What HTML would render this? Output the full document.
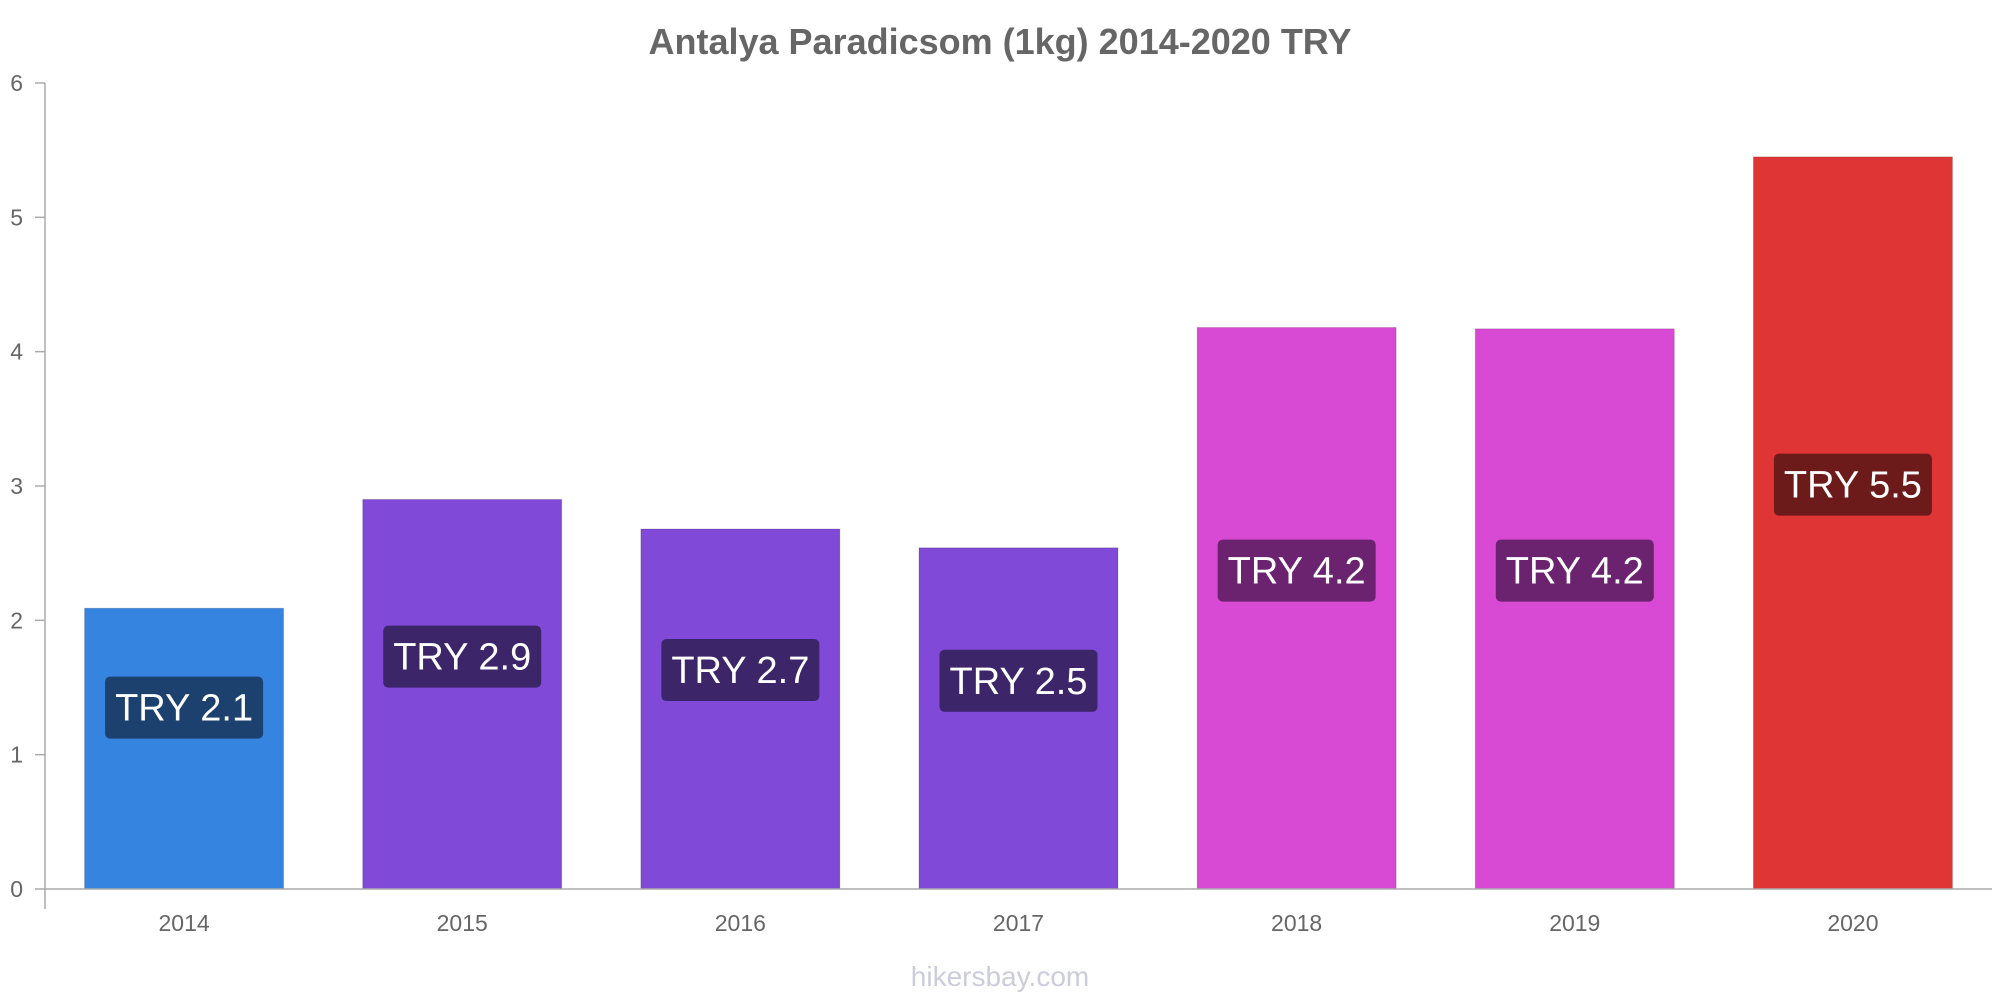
<!DOCTYPE html>
<html><head><meta charset="utf-8"><style>
html,body{margin:0;padding:0;background:#fff;width:2000px;height:1000px;overflow:hidden}
svg{display:block;font-family:"Liberation Sans",sans-serif}
</style></head><body>
<svg id="chart" width="2000" height="1000">
<text x="1000" y="54" text-anchor="middle" font-size="36" font-weight="bold" fill="#666">Antalya Paradicsom (1kg) 2014-2020 TRY</text>
<g id="yaxis"></g>
<g id="bars"></g>
<g id="xaxis"></g>
<text x="1000" y="986" text-anchor="middle" font-size="28" fill="#ccd">hikersbay.com</text>
</svg>
<script>
const categories = ["2014","2015","2016","2017","2018","2019","2020"];
const values = [2.09, 2.90, 2.68, 2.54, 4.18, 4.17, 5.45];
const valueLabels = ["TRY 2.1","TRY 2.9","TRY 2.7","TRY 2.5","TRY 4.2","TRY 4.2","TRY 5.5"];
const labelAt = [1.35, 1.73, 1.63, 1.55, 2.37, 2.37, 3.01];
const yTicks = [0,1,2,3,4,5,6];
const barColors = ["#3584e0","#8049d8","#8049d8","#8049d8","#d849d4","#d849d4","#e03535"];
const labelColors = ["#1d416e","#3d2569","#3d2569","#3d2569","#6b2370","#6b2370","#6d1a1a"];

const NS="http://www.w3.org/2000/svg";
const x0=45, x1=1992, y0=889, yTop=83;
const y=v=>y0-(v/6)*(y0-yTop);
const step=(x1-x0)/categories.length;
const xc=i=>x0+step*(i+0.5);
const bw=199;
function mk(t,a,p){const e=document.createElementNS(NS,t);for(const k in a)e.setAttribute(k,a[k]);p.appendChild(e);return e;}
const ya=document.getElementById('yaxis'),bg=document.getElementById('bars'),xa=document.getElementById('xaxis');
const axl=mk('line',{x1:x0,y1:yTop,x2:x0,y2:909,stroke:'#aaa','stroke-width':1.5},ya);


yTicks.forEach(t=>{
  const tk=mk('line',{x1:x0-10,y1:y(t),x2:x0,y2:y(t),stroke:'#aaa','stroke-width':1.5},ya);
  
  
  const tx=mk('text',{x:23,y:y(t)+8,'text-anchor':'end','font-size':23,fill:'#666'},ya);
  tx.textContent=t;
  
  
});
categories.forEach((c,i)=>{
  const r=mk('rect',{x:xc(i)-bw/2,y:y(values[i]),width:bw,height:y0-y(values[i]),fill:barColors[i],stroke:'rgba(0,0,0,0.15)','stroke-width':1},bg);
  
  
  const ly=y(labelAt[i]);
  const lb=mk('rect',{x:xc(i)-79,y:ly-31,width:158,height:62,rx:5,fill:labelColors[i]},bg);
  
  
  const lt=mk('text',{x:xc(i),y:ly+13,'text-anchor':'middle','font-size':38,fill:'#fff'},bg);
  lt.textContent=valueLabels[i];
  
  
  const xt=mk('text',{x:xc(i),y:931,'text-anchor':'middle','font-size':23,fill:'#666'},xa);
  xt.textContent=c;
  
  
});
const bl=mk('line',{x1:x0,y1:y0,x2:x1,y2:y0,stroke:'#aaa','stroke-width':1.5},xa);


</script>
</body></html>
